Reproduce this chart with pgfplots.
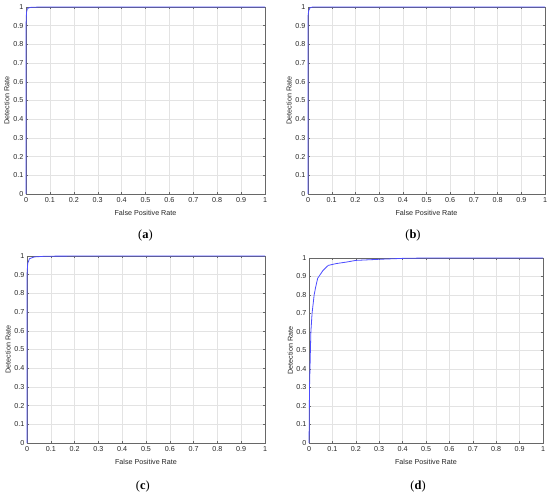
\documentclass[border=0pt]{standalone}
\usepackage{fontspec}
\setmainfont{Liberation Sans}
\newfontfamily\capfont{Liberation Serif}
\usepackage{pgfplots}
\pgfplotsset{compat=1.18}
\definecolor{roc}{rgb}{0.3,0.3,1}
\definecolor{axgray}{rgb}{0.15,0.15,0.15}
\tikzset{capstyle/.style={font=\capfont\fontsize{12.5}{13}\selectfont}}
\pgfplotsset{
  rocax/.style={
    scale only axis,
    clip=false,
    xmin=0,xmax=1,ymin=0,ymax=1,
    xtick={0,0.1,0.2,0.3,0.4,0.5,0.6,0.7,0.8,0.9,1},
    ytick={0,0.1,0.2,0.3,0.4,0.5,0.6,0.7,0.8,0.9,1},
    xticklabels={0,0.1,0.2,0.3,0.4,0.5,0.6,0.7,0.8,0.9,1},
    yticklabels={0,0.1,0.2,0.3,0.4,0.5,0.6,0.7,0.8,0.9,1},
    grid=major,
    grid style={gray!22, line width=0.4bp},
    tick align=inside,
    major tick length=2.2bp,
    tick style={axgray!70, line width=0.4bp},
    axis line style={axgray!70, line width=0.5bp},
    tick label style={font=\fontsize{7.2}{8}\selectfont, text=axgray},
    yticklabel style={xshift=0.8bp},
    label style={font=\fontsize{7.2}{8}\selectfont, text=axgray},
    xlabel={False Positive Rate},
    ylabel={Detection Rate},
    xlabel style={at={(axis description cs:0.5,-0.10)}, anchor=center},
    ylabel style={at={(axis description cs:-0.08,0.5)}, anchor=center},
  },
  rocline/.style={roc, line width=0.8bp, no markers},
}
\begin{document}
\begin{tikzpicture}
\useasboundingbox (0,0) rectangle (550bp,493bp);
% (a)
\begin{axis}[rocax, at={(26bp,299bp)}, anchor=south west, width=239bp, height=187bp]
\addplot[rocline] coordinates {
(0,0) (0,0.90) (0.002,0.97) (0.005,0.988) (0.01,0.995) (0.02,0.998) (0.06,1) (1,1)
};
\node[capstyle] at (axis description cs:0.5,-0.22) {(\textbf{a})};
\end{axis}
% (b)
\begin{axis}[rocax, at={(308bp,299bp)}, anchor=south west, width=237bp, height=187bp]
\addplot[rocline] coordinates {
(0,0) (0,0.95) (0.003,0.98) (0.008,0.995) (0.02,1) (1,1)
};
\node[capstyle] at (axis description cs:0.443,-0.22) {(\textbf{b})};
\end{axis}
% (c)
\begin{axis}[rocax, at={(27bp,50bp)}, anchor=south west, width=238bp, height=187bp]
\addplot[rocline] coordinates {
(0,0) (0,0.90) (0.003,0.96) (0.01,0.985) (0.03,0.995) (0.08,0.999) (0.27,1) (1,1)
};
\node[capstyle] at (axis description cs:0.487,-0.235) {(\textbf{c})};
\end{axis}
% (d)
\begin{axis}[rocax, at={(309bp,50bp)}, anchor=south west, width=234bp, height=185bp]
\addplot[rocline] coordinates {
(0,0) (0.001,0.1) (0.002,0.29) (0.006,0.5) (0.008,0.6) (0.013,0.7) (0.022,0.8) (0.028,0.84) (0.037,0.89) (0.06,0.933) (0.082,0.96) (0.117,0.97) (0.16,0.978) (0.2,0.987) (0.3,0.993) (0.4,0.998) (0.5,1) (1,1)
};
\node[capstyle] at (axis description cs:0.466,-0.235) {(\textbf{d})};
\end{axis}
\end{tikzpicture}
\end{document}
